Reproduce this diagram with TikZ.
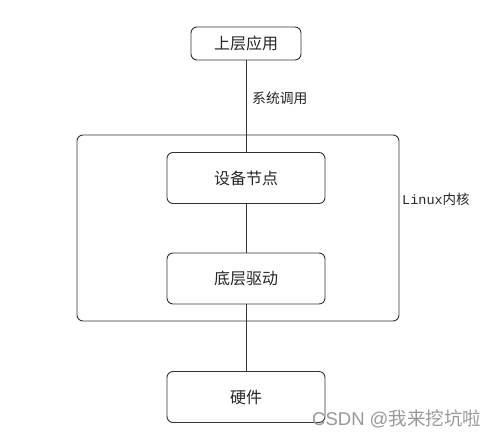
\documentclass[tikz,border=0pt]{standalone}
\usepackage{fontspec}
\newfontfamily\cjk{Noto Sans CJK SC}
\newfontfamily\mono{Liberation Mono}
\newfontfamily\wm{Liberation Sans}
\begin{document}
\begin{tikzpicture}[x=1pt,y=-1pt,
  boxst/.style={draw=black!80,line width=0.9pt,rounded corners=6pt,inner sep=0pt,font=\cjk\fontsize{16}{18}\selectfont,text=black!85},
  conn/.style={draw=black!80,line width=0.9pt}]
\useasboundingbox (0,0) rectangle (500,439);
\fill[white] (0,0) rectangle (500,439);
\node[boxst,minimum width=110pt,minimum height=33pt] (app) at (246,43.5) {上层应用};
\draw[draw=black!80,line width=0.9pt,rounded corners=6pt] (77,135) rectangle (399,321);
\node[boxst,minimum width=158pt,minimum height=51pt] (dev) at (246,178) {设备节点};
\node[boxst,minimum width=158pt,minimum height=51pt] (drv) at (246,278.5) {底层驱动};
\node[boxst,minimum width=158pt,minimum height=51pt] (hw) at (246,397) {硬件};
\draw[conn] (app) -- (dev);
\draw[conn] (dev) -- (drv);
\draw[conn] (drv) -- (hw);
\node[anchor=west,inner sep=0pt,font=\cjk\fontsize{13.8}{15}\selectfont,text=black!85] (sys) at (252,98) {系统调用};
\node[anchor=west,inner sep=0pt,font=\fontsize{13.5}{15}\selectfont,text=black!85] (lk) at (402,199) {{\mono Linux}{\cjk 内核}};
\node[anchor=west,inner sep=0pt,font=\fontsize{18.5}{20}\selectfont,text=black!40] (wmk) at (312,419) {{\wm CSDN @}{\cjk 我来挖坑啦}};
\end{tikzpicture}
\end{document}
